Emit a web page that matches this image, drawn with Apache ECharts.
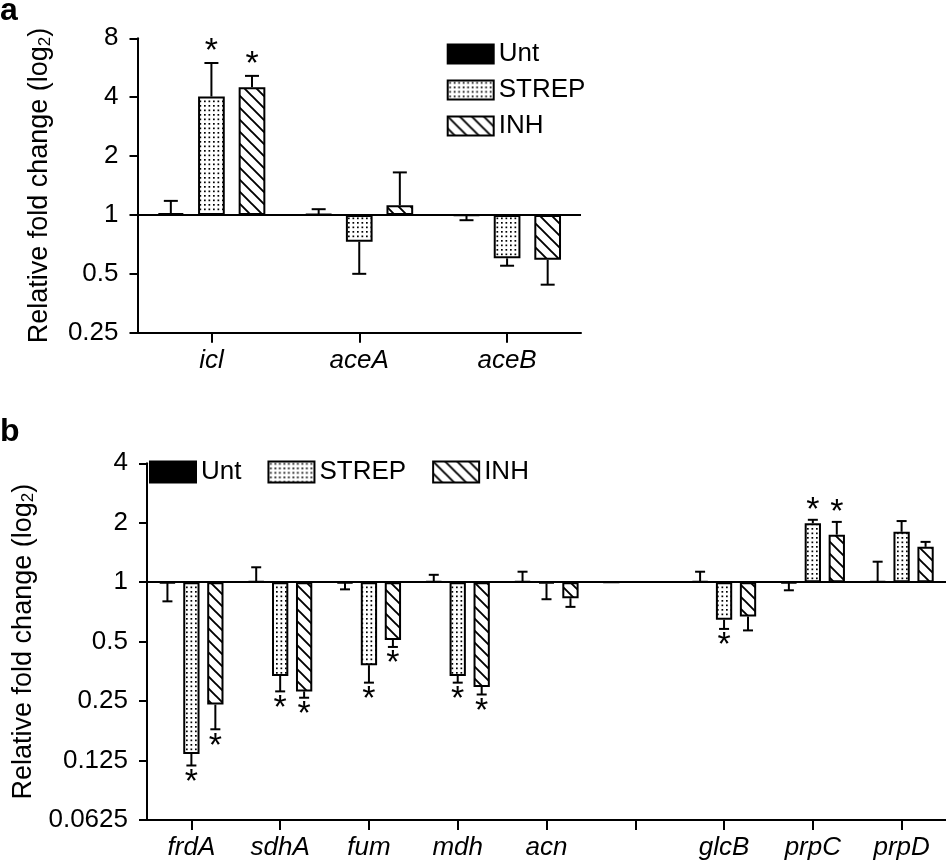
<!DOCTYPE html>
<html>
<head>
<meta charset="utf-8">
<script src="https://cdn.jsdelivr.net/npm/echarts@6/dist/echarts.min.js"></script>
<style>
  html, body { margin: 0; padding: 0; background: #fff; }
  #main { width: 946px; height: 863px; }
</style>
</head>
<body>
<div id="main"></div>
<script>
// panel a
const catsA = ['icl', 'aceA', 'aceB'];
const untA = [1.02, 1.01, 0.99];
const untErrA = [1.18, 1.07, 0.94];
const strepA = [4.03, 0.73, 0.60];
const strepErrA = [5.98, 0.50, 0.55];
const inhA = [4.5, 1.12, 0.59];
const inhErrA = [5.14, 1.65, 0.44];
const strepSigA = [1, 0, 0];
const inhSigA = [1, 0, 0];
const ticksA = [0.25, 0.5, 1, 2, 4, 8];

// panel b
const catsB = ['frdA', 'sdhA', 'fum', 'mdh', 'acn', '', 'glcB', 'prpC', 'prpD'];
const untB = [0.99, 1.01, 0.99, 1.01, 1.01, 1, 1.01, 0.99, 1.01];
const untErrB = [0.80, 1.19, 0.92, 1.09, 1.13, null, 1.13, 0.91, 1.27];
const strepB = [0.135, 0.335, 0.38, 0.335, 0.985, null, 0.645, 1.99, 1.80];
const strepErrB = [0.118, 0.28, 0.31, 0.31, 0.82, null, 0.58, 2.07, 2.04];
const inhB = [0.24, 0.28, 0.51, 0.295, 0.83, null, 0.67, 1.74, 1.51];
const inhErrB = [0.18, 0.26, 0.47, 0.27, 0.75, null, 0.57, 2.02, 1.60];
const strepSigB = [1, 1, 1, 1, 0, 0, 1, 1, 0];
const inhSigB = [1, 1, 1, 1, 0, 0, 0, 1, 0];
const ticksB = [0.0625, 0.125, 0.25, 0.5, 1, 2, 4];

const FONT = "'Liberation Sans', Arial, Helvetica, sans-serif";

function dotPattern() {
  const c = document.createElement('canvas');
  c.width = 9; c.height = 9;
  const g = c.getContext('2d');
  g.fillStyle = '#fff';
  g.fillRect(0, 0, 9, 9);
  g.fillStyle = '#000';
  [[1.5, 1.5], [6, 1.5], [1.5, 6], [6, 6]].forEach(p => g.fillRect(p[0], p[1], 1.7, 1.7));
  return { image: c, repeat: 'repeat' };
}

function hatchPattern() {
  const p = 12;
  const c = document.createElement('canvas');
  c.width = p; c.height = p;
  const g = c.getContext('2d');
  g.fillStyle = '#fff';
  g.fillRect(0, 0, p, p);
  g.strokeStyle = '#000';
  g.lineWidth = 1.9;
  g.beginPath();
  g.moveTo(-2, -2); g.lineTo(p + 2, p + 2);
  g.moveTo(p - 3, -3); g.lineTo(p + 3, 3);
  g.moveTo(-3, p - 3); g.lineTo(3, p + 3);
  g.stroke();
  return { image: c, repeat: 'repeat' };
}

const DOTS = dotPattern();
const HATCH = hatchPattern();
const log2 = v => (v == null ? null : Math.log2(v));

function errData(vals, errs, sigs, s) {
  const out = [];
  vals.forEach((v, i) => {
    if (v == null || errs[i] == null) return;
    out.push([i, s, Math.log2(v), Math.log2(errs[i]), sigs ? sigs[i] : 0]);
  });
  return out;
}

// error bars and significance stars, placed at the bar offsets
function errSeries(gridIdx, data, step, cap, up, down) {
  return {
    type: 'custom',
    xAxisIndex: gridIdx,
    yAxisIndex: gridIdx,
    z: 5,
    silent: true,
    encode: { x: 0, y: [2, 3] },
    data: data,
    renderItem: function (params, api) {
      const cat = api.value(0), s = api.value(1);
      const v = api.value(2), e = api.value(3), sig = api.value(4);
      const p1 = api.coord([cat, v]);
      const p2 = api.coord([cat, e]);
      const x = p1[0] + (s - 1) * step;
      const ls = { stroke: '#000', lineWidth: 2 };
      const children = [
        { type: 'line', shape: { x1: x, y1: p1[1], x2: x, y2: p2[1] }, style: ls },
        { type: 'line', shape: { x1: x - cap / 2, y1: p2[1], x2: x + cap / 2, y2: p2[1] }, style: ls }
      ];
      if (sig) {
        const ty = e >= v ? p2[1] - up : p2[1] + down;
        children.push({
          type: 'text',
          style: {
            text: '*', x: x, y: ty, align: 'center', verticalAlign: 'middle',
            fontSize: 34, fontFamily: FONT, fill: '#000'
          }
        });
      }
      return { type: 'group', children: children };
    }
  };
}

function barSeries(name, gridIdx, vals, fill, width, gap, withBase) {
  const s = {
    name: name,
    type: 'bar',
    xAxisIndex: gridIdx,
    yAxisIndex: gridIdx,
    barWidth: width,
    barGap: gap,
    data: vals.map(log2),
    itemStyle: { color: fill, borderColor: '#000', borderWidth: 2 },
    emphasis: { disabled: true }
  };
  if (withBase) {
    s.markLine = {
      silent: true,
      symbol: 'none',
      label: { show: false },
      lineStyle: { color: '#000', width: 2, type: 'solid' },
      data: [{ yAxis: 0 }]
    };
  }
  return s;
}

const yName = '{n|Relative fold change (log}{s|2}{n|)}';
const nameRich = {
  n: { fontSize: 27, fontFamily: FONT, color: '#000', lineHeight: 27, verticalAlign: 'top' },
  s: { fontSize: 17, fontFamily: FONT, color: '#000', lineHeight: 17, verticalAlign: 'bottom', padding: [12, 0, 0, 0] }
};

function yAxis(gridIdx, ticks, gap) {
  return {
    gridIndex: gridIdx,
    type: 'value',
    min: Math.log2(ticks[0]),
    max: Math.log2(ticks[ticks.length - 1]),
    interval: 1,
    name: yName,
    nameLocation: 'middle',
    nameGap: gap,
    nameTextStyle: { rich: nameRich },
    axisLine: { show: true, lineStyle: { color: '#000', width: 2 } },
    axisTick: { show: true, length: 8, lineStyle: { color: '#000', width: 2 } },
    axisLabel: {
      margin: 19, fontSize: 26, color: '#000', fontFamily: FONT,
      formatter: v => String(Math.pow(2, v))
    },
    splitLine: { show: false }
  };
}

function xAxis(gridIdx, cats) {
  return {
    gridIndex: gridIdx,
    type: 'category',
    data: cats,
    axisLine: { show: true, onZero: false, lineStyle: { color: '#000', width: 2 } },
    axisTick: { show: true, alignWithLabel: true, length: 10, lineStyle: { color: '#000', width: 2 } },
    axisLabel: { margin: 15, fontSize: 26, fontStyle: 'italic', color: '#000', fontFamily: FONT, interval: 0 },
    splitLine: { show: false }
  };
}

const bwA = 26.7, gapA = 0.52;
const bwB = 16.3, gapB = 0.47;

const chart = echarts.init(document.getElementById('main'));
chart.setOption({
  animation: false,
  backgroundColor: '#fff',
  textStyle: { fontFamily: FONT, color: '#000' },
  title: [
    { text: 'a', left: 0, top: -5, padding: 0, textStyle: { fontSize: 32, fontWeight: 'bold', color: '#000', fontFamily: FONT } },
    { text: 'b', left: 0, top: 416, padding: 0, textStyle: { fontSize: 32, fontWeight: 'bold', color: '#000', fontFamily: FONT } }
  ],
  legend: [
    {
      data: ['Unt', 'STREP', 'INH'],
      orient: 'vertical',
      left: 446.7, top: 41,
      padding: 0,
      icon: 'rect',
      itemWidth: 46, itemHeight: 19, itemGap: 10,
      selectedMode: false,
      textStyle: { fontSize: 26, color: '#000', fontFamily: FONT }
    },
    {
      data: ['Unt', 'STREP', 'INH'],
      orient: 'horizontal',
      left: 149, top: 459,
      padding: 0,
      icon: 'rect',
      itemWidth: 46, itemHeight: 21, itemGap: 26,
      selectedMode: false,
      textStyle: { fontSize: 26, color: '#000', fontFamily: FONT }
    }
  ],
  grid: [
    { left: 137.5, top: 38.3, width: 443.5, height: 294.4 },
    { left: 137.7, top: 463.3, right: 0, height: 356.7 }
  ],
  xAxis: [xAxis(0, catsA), xAxis(1, catsB)],
  yAxis: [yAxis(0, ticksA, 84), yAxis(1, ticksB, 110)],
  series: [
    barSeries('Unt', 0, untA, '#000', bwA, gapA * 100 + '%', true),
    barSeries('STREP', 0, strepA, DOTS, bwA, gapA * 100 + '%'),
    barSeries('INH', 0, inhA, HATCH, bwA, gapA * 100 + '%'),
    errSeries(0, errData(untA, untErrA, null, 0)
      .concat(errData(strepA, strepErrA, strepSigA, 1))
      .concat(errData(inhA, inhErrA, inhSigA, 2)), bwA * (1 + gapA), 14, 11, 17),
    barSeries('Unt', 1, untB, '#000', bwB, gapB * 100 + '%', true),
    barSeries('STREP', 1, strepB, DOTS, bwB, gapB * 100 + '%'),
    barSeries('INH', 1, inhB, HATCH, bwB, gapB * 100 + '%'),
    errSeries(1, errData(untB, untErrB, null, 0)
      .concat(errData(strepB, strepErrB, strepSigB, 1))
      .concat(errData(inhB, inhErrB, inhSigB, 2)), bwB * (1 + gapB), 10, 9, 17)
  ]
});
</script>
</body>
</html>
